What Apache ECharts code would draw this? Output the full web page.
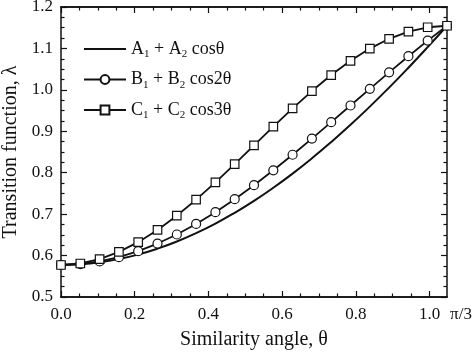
<!DOCTYPE html>
<html>
<head>
<meta charset="utf-8">
<script src="https://cdn.jsdelivr.net/npm/echarts@6/dist/echarts.min.js"></script>
<style>
html, body { margin: 0; padding: 0; background: #fff; }
#chart { width: 474px; height: 353px; }
</style>
</head>
<body>
<div id="chart"></div>
<script>
// similarity angle, sampled every pi/60 up to pi/3
const theta = [0, 0.0524, 0.1047, 0.1571, 0.2094, 0.2618, 0.3142, 0.3665, 0.4189, 0.4712, 0.5236,
  0.5760, 0.6283, 0.6807, 0.7330, 0.7854, 0.8378, 0.8901, 0.9425, 0.9948, 1.0472]

// transition function
const lambdaA = [0.5774, 0.5790, 0.5837, 0.5916, 0.6026, 0.6167, 0.6339, 0.6541, 0.6772, 0.7033, 0.7321,
  0.7637, 0.7979, 0.8347, 0.8740, 0.9156, 0.9595, 1.0054, 1.0534, 1.1032, 1.1547]
const lambdaB = [0.5774, 0.5795, 0.5858, 0.5962, 0.6107, 0.6290, 0.6509, 0.6763, 0.7048, 0.7361, 0.7699,
  0.8058, 0.8434, 0.8823, 0.9221, 0.9623, 1.0025, 1.0423, 1.0812, 1.1189, 1.1548]
const lambdaC = [0.5773, 0.5809, 0.5914, 0.6088, 0.6324, 0.6619, 0.6963, 0.7349, 0.7768, 0.8208, 0.8660,
  0.9112, 0.9552, 0.9971, 1.0357, 1.0701, 1.0996, 1.1232, 1.1406, 1.1511, 1.1547]

const seriesNames = ['A1 + A2 cosθ', 'B1 + B2 cos2θ', 'C1 + C2 cos3θ']

// tick positions on the theta axis
const xMajorTicks = [0, 0.2, 0.4, 0.6, 0.8, 1.0]
const xMinorTicks = [0.05, 0.1, 0.15, 0.25, 0.3, 0.35, 0.45, 0.5, 0.55, 0.65, 0.7, 0.75, 0.85, 0.9, 0.95]
const xLabelValues = [0, 0.2, 0.4, 0.6, 0.8, 1.0, 1.0472]
const xMax = 1.0472

const font = 'Liberation Serif'
const ink = '#111'

const chart = echarts.init(document.getElementById('chart'))

function xAxisOf(position, ticks, len, main) {
  return {
    type: 'value',
    position: position,
    min: 0,
    max: xMax,
    name: main ? 'Similarity angle, θ' : '',
    nameLocation: 'middle',
    nameGap: 33,
    nameTextStyle: { fontFamily: font, fontSize: 20, color: ink },
    axisLine: { show: true, onZero: false, lineStyle: { color: ink, width: 1.5 } },
    axisTick: { show: true, inside: true, length: len, customValues: ticks, lineStyle: { color: ink, width: 1.2 } },
    axisLabel: main ? {
      show: true,
      customValues: xLabelValues,
      margin: 9,
      fontFamily: font,
      fontSize: 17,
      color: ink,
      formatter: v => v > 1.01 ? '{pi|π/3}' : v.toFixed(1),
      rich: { pi: { fontFamily: font, fontSize: 17, color: ink, padding: [0, 0, 0, 28] } }
    } : { show: false },
    splitLine: { show: false }
  }
}

function yAxisOf(position, main) {
  return {
    type: 'value',
    position: position,
    min: 0.5,
    max: 1.2,
    interval: 0.1,
    name: main ? 'Transition function, λ' : '',
    nameLocation: 'middle',
    nameGap: 39,
    nameTextStyle: { fontFamily: font, fontSize: 20, color: ink },
    axisLine: { show: true, onZero: false, lineStyle: { color: ink, width: 1.5 } },
    axisTick: { show: true, inside: true, length: 6, lineStyle: { color: ink, width: 1.2 } },
    minorTick: { show: true, splitNumber: 4, length: 3.5, lineStyle: { color: ink, width: 1.2 } },
    axisLabel: main ? {
      show: true, margin: 8, fontFamily: font, fontSize: 17, color: ink,
      formatter: v => v.toFixed(1)
    } : { show: false },
    splitLine: { show: false }
  }
}

const markerStyle = { color: '#fff', borderColor: ink, borderWidth: 1.2 }

const option = {
  animation: false,
  backgroundColor: '#fff',
  grid: { left: 61, right: 27, top: 7, bottom: 56, outerBoundsMode: 'none', containLabel: false },
  legend: {
    orient: 'vertical',
    left: 78,
    top: 33,
    itemWidth: 42,
    itemHeight: 11,
    itemGap: 8.5,
    data: seriesNames,
    formatter: name => name.replace(/([ABC])([12])/g, '$1{s|$2}'),
    textStyle: {
      fontFamily: font, fontSize: 18, color: ink, lineHeight: 22,
      rich: { s: { fontFamily: font, fontSize: 11, color: ink, lineHeight: 12, verticalAlign: 'bottom' } }
    }
  },
  xAxis: [
    xAxisOf('bottom', xMajorTicks, 6, true),
    xAxisOf('bottom', xMinorTicks, 3.5, false),
    xAxisOf('top', xMajorTicks, 6, false),
    xAxisOf('top', xMinorTicks, 3.5, false)
  ],
  yAxis: [yAxisOf('left', true), yAxisOf('right', false)],
  series: [
    {
      name: seriesNames[0],
      type: 'line',
      data: theta.map((t, i) => [t, lambdaA[i]]),
      symbol: 'none',
      smooth: true,
      lineStyle: { color: ink, width: 2 },
      // plain line in the legend, no marker
      itemStyle: { color: 'transparent', borderColor: 'transparent', borderWidth: 0 }
    },
    {
      name: seriesNames[1],
      type: 'line',
      data: theta.map((t, i) => [t, lambdaB[i]]),
      symbol: 'circle',
      symbolSize: 9,
      lineStyle: { color: ink, width: 1.8 },
      itemStyle: markerStyle
    },
    {
      name: seriesNames[2],
      type: 'line',
      data: theta.map((t, i) => [t, lambdaC[i]]),
      symbol: 'rect',
      symbolSize: 8.5,
      lineStyle: { color: ink, width: 1.8 },
      itemStyle: markerStyle
    }
  ]
}

chart.setOption(option)
</script>
</body>
</html>
